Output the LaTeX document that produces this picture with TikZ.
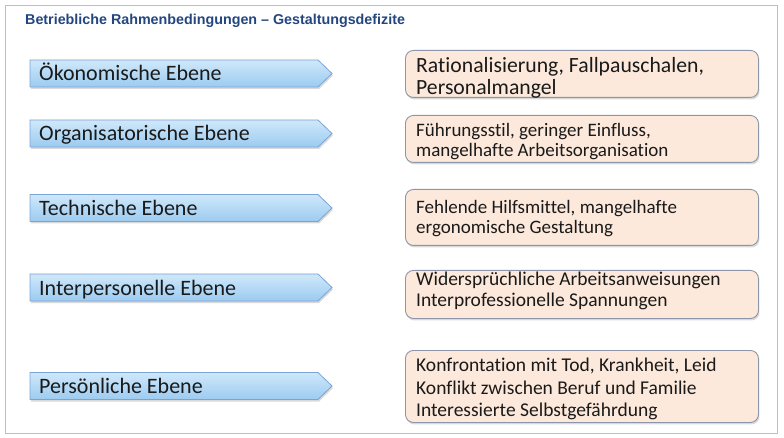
\documentclass[tikz,border=0pt]{standalone}
\usepackage{fontspec}
\setmainfont{Carlito}[Ligatures={NoCommon}]
\newfontfamily\titlefont{Liberation Sans}
\usetikzlibrary{shadows}
\definecolor{titleblue}{HTML}{23467F}
\definecolor{arrowtop}{HTML}{CFE8FA}
\definecolor{arrowbot}{HTML}{9CCBF1}
\definecolor{arrowline}{HTML}{7AA3D6}
\definecolor{boxfill}{HTML}{FDE9DB}
\definecolor{boxline}{HTML}{8C95A9}
\definecolor{framegray}{HTML}{BFBFBF}
\definecolor{txt}{HTML}{1A1A1A}
\tikzset{
  lvlarrow/.style={draw=arrowline, line width=0.8pt, top color=arrowtop, bottom color=arrowbot,
    drop shadow={shadow xshift=1pt, shadow yshift=-2pt, opacity=0.3}},
  lvllabel/.style={anchor=base west, inner sep=0pt, text=txt, font=\fontsize{22}{24}\selectfont},
  infobox/.style={draw=boxline, line width=0.9pt, fill=boxfill, rounded corners=8pt,
    drop shadow={shadow xshift=1pt, shadow yshift=-2pt, opacity=0.3},
    anchor=north west, minimum width=353pt, inner sep=0pt},
  infotext/.style={anchor=base west, inner sep=0pt, align=left, text=txt},
}
\newcommand\lvlrow[3]{%
  \path[lvlarrow] (30,#2-13.5) -- (318,#2-13.5) -- (332,#2) -- (318,#2+13.5) -- (30,#2+13.5) -- cycle;
  \node[lvllabel] (#1) at (39,#2+7.5) {#3};
}
\begin{document}
\begin{tikzpicture}[x=1pt,y=-1pt]
\useasboundingbox (0,0) rectangle (784,438);
\node[draw=framegray, line width=0.8pt, minimum width=772pt, minimum height=428pt,
  anchor=north west, inner sep=0pt] (frame) at (5,5) {};
\node[anchor=base west, inner sep=0pt, text=titleblue,
  font=\titlefont\bfseries\fontsize{14.3}{16}\selectfont] (title) at (25,24.5)
  {Betriebliche Rahmenbedingungen – Gestaltungsdefizite};

\lvlrow{l1}{73.5}{Ökonomische Ebene}
\lvlrow{l2}{133.5}{Organisatorische Ebene}
\lvlrow{l3}{208}{Technische Ebene}
\lvlrow{l4}{287.5}{Interpersonelle Ebene}
\lvlrow{l5}{386}{Persönliche Ebene}

\node[infobox, minimum height=47pt] (b1) at (405,50) {};
\node[infobox, minimum height=47pt] (b2) at (405,115) {};
\node[infobox, minimum height=56pt] (b3) at (405,189) {};
\node[infobox, minimum height=48pt] (b4) at (405,270) {};
\node[infobox, minimum height=72pt] (b5) at (405,350) {};

\node[infotext, font=\fontsize{21.7}{22}\selectfont] (t1) at (416,94.5)
  {Rationalisierung, Fallpauschalen,\\Personalmangel};
\node[infotext, font=\fontsize{19}{20}\selectfont] (t2) at (416,156.7)
  {Führungsstil, geringer Einfluss,\\mangelhafte Arbeitsorganisation};
\node[infotext, font=\fontsize{19}{20}\selectfont] (t3) at (416,233.3)
  {Fehlende Hilfsmittel, mangelhafte\\ergonomische Gestaltung};
\node[infotext, font=\fontsize{19.5}{21.7}\selectfont] (t4) at (416,306.7)
  {Widersprüchliche Arbeitsanweisungen\\Interprofessionelle Spannungen};
\node[infotext, font=\fontsize{19.5}{22.5}\selectfont] (t5) at (416,416.7)
  {Konfrontation mit Tod, Krankheit, Leid\\Konflikt zwischen Beruf und Familie\\Interessierte Selbstgefährdung};
\end{tikzpicture}
\end{document}
